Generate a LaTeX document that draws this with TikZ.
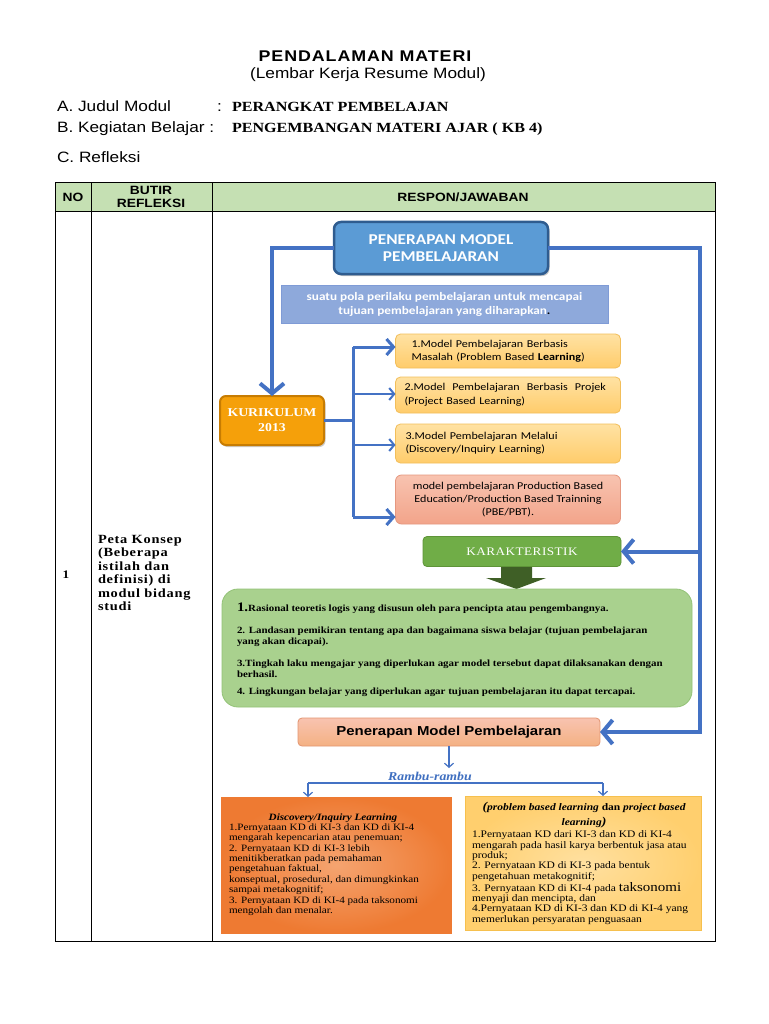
\documentclass[tikz,border=0pt]{standalone}
\usepackage{fontspec}
\setmainfont{Liberation Serif}[FakeStretch=1.15]
\newfontfamily\arialf{Liberation Sans}[FakeStretch=1.15]
\newfontfamily\calf{Carlito}[FakeStretch=1.15]
\usetikzlibrary{arrows.meta,shadows}
\definecolor{hdrgreen}{HTML}{C5E0B3}
\definecolor{blueline}{HTML}{4472C4}
\definecolor{topfill}{HTML}{5B9BD5}
\definecolor{topdraw}{HTML}{2F5C8F}
\definecolor{descfill}{HTML}{8EA9DB}
\definecolor{descdraw}{HTML}{7F9BD6}
\definecolor{kurfill}{HTML}{F5A00A}
\definecolor{kurdraw}{HTML}{C77C02}
\definecolor{mtop}{HTML}{FFE2A3}
\definecolor{mbot}{HTML}{FFCC6B}
\definecolor{mdraw}{HTML}{F2BE5A}
\definecolor{ptop}{HTML}{F8C3B0}
\definecolor{pbot}{HTML}{F2A48A}
\definecolor{pdraw}{HTML}{E5977F}
\definecolor{karfill}{HTML}{70AD47}
\definecolor{kardraw}{HTML}{5E9438}
\definecolor{dkgreen}{HTML}{3F5F26}
\definecolor{listfill}{HTML}{A9D18E}
\definecolor{listdraw}{HTML}{93C277}
\definecolor{penfill}{HTML}{F4B183}
\definecolor{pendraw}{HTML}{E39571}
\definecolor{discin}{HTML}{F5A470}
\definecolor{discout}{HTML}{EE7A32}
\definecolor{probin}{HTML}{FFE0A0}
\definecolor{probout}{HTML}{FFCF6E}
\definecolor{probdraw}{HTML}{F6C04E}
\definecolor{rambu}{HTML}{3F6FC0}
\newcommand\fsz[2]{\fontsize{#1}{#2}\selectfont}
\begin{document}
\begin{tikzpicture}[x=1pt,y=-1pt,
  every node/.style={inner sep=0pt, outer sep=0pt},
  blu/.style={draw=blueline, line width=4pt, line join=miter},
  blumid/.style={draw=blueline, line width=3pt},
  bluthin/.style={draw=blueline, line width=1.2pt},
  bigtip/.style={-{Straight Barb[length=10pt,width=24pt]}},
  midtip/.style={-{Straight Barb[length=7pt,width=16pt]}},
  smalltip/.style={-{Straight Barb[length=5pt,width=12pt]}},
  thintip/.style={-{Straight Barb[length=4pt,width=9pt]}},
  hdr/.style={anchor=base west, font=\arialf\fsz{15}{18}},
  hdrb/.style={anchor=base west, font=\bfseries\fsz{14}{16}},
  mbox/.style={draw=mdraw, line width=0.8pt, rounded corners=5pt, top color=mtop, bottom color=mbot, minimum width=225pt, font=\calf\fsz{10.5}{13.5}, align=left},
  lstitem/.style={anchor=west, font=\bfseries\fsz{9.5}{11}, align=left}
]
\useasboundingbox (0,0) rectangle (768,1024);
\fill[white] (0,0) rectangle (768,1024);

% header
\node[font={\arialf\bfseries\addfontfeature{LetterSpace=6}\fsz{15.5}{18}}] (title) at (365,56) {PENDALAMAN MATERI};
\node[font=\arialf\fsz{15}{18}] (sub) at (368,75) {(Lembar Kerja Resume Modul)};
\node[hdr] (la) at (57,112) {A. Judul Modul};
\node[hdr] (ca) at (217,112) {:};
\node[hdr] (lb) at (57,133) {B. Kegiatan Belajar :};
\node[hdrb] (va) at (232,112) {PERANGKAT PEMBELAJAN};
\node[hdrb] (vb) at (232,133) {PENGEMBANGAN MATERI AJAR ( KB 4)};
\node[hdr] (lc) at (57,163) {C. Refleksi};

% table
\fill[hdrgreen] (55,183) rectangle (715,212);
\draw[line width=1pt] (55,183) rectangle (715,941);
\draw[line width=1pt] (55,212) -- (715,212);
\draw[line width=1pt] (91,183) -- (91,941);
\draw[line width=1pt] (212,183) -- (212,941);
\node[font=\arialf\bfseries\fsz{12}{13}] (hno) at (73,197) {NO};
\node[font=\arialf\bfseries\fsz{12}{13}, align=center] (hbutir) at (151,197) {BUTIR\\REFLEKSI};
\node[font=\arialf\bfseries\fsz{12}{13}] (hresp) at (463,197) {RESPON/JAWABAN};
\node[font=\bfseries\fsz{11.5}{13}] (no1) at (66,575) {1};
\node[anchor=north west, font={\bfseries\addfontfeature{LetterSpace=6}\fsz{12.5}{13.5}}, align=left] (butir1) at (98,535) {Peta Konsep\\(Beberapa\\istilah dan\\definisi) di\\modul bidang\\studi};

% diagram boxes
\node[draw=topdraw, line width=2.5pt, rounded corners=7pt, fill=topfill, text=white,
  minimum width=214pt, minimum height=52pt, align=center,
  font=\calf\bfseries\fsz{15}{17},
  drop shadow={shadow xshift=1.5pt, shadow yshift=-2pt, opacity=0.45}] (top) at (441,248) {PENERAPAN MODEL\\PEMBELAJARAN};
\node[draw=descdraw, line width=0.8pt, fill=descfill, text=white, minimum width=327pt, minimum height=38pt,
  align=center, font=\calf\bfseries\fsz{11.5}{14}] (desc) at (444.5,304) {suatu pola perilaku pembelajaran untuk mencapai\\tujuan pembelajaran yang diharapkan\textcolor{black}{.}};
\node[draw=kurdraw, line width=2pt, rounded corners=6pt, fill=kurfill, text=white,
  minimum width=104pt, minimum height=49pt, align=center, font=\bfseries\fsz{12}{15},
  drop shadow={shadow xshift=1.5pt, shadow yshift=-2pt, opacity=0.4}] (kur) at (272,420.5) {KURIKULUM\\2013};
\node[mbox, minimum height=34pt, text width=193pt, inner xsep=16pt] (m1) at (508,351) {1.Model Pembelajaran Berbasis\\Masalah (Problem Based \textbf{Learning})};
\node[mbox, minimum height=36pt, text width=207pt, inner xsep=9pt] (m2) at (508,395) {2.Model\ \ Pembelajaran\ \ Berbasis\ \ Projek\\(Project Based Learning)};
\node[mbox, minimum height=39pt, text width=205pt, inner xsep=10pt] (m3) at (508,443.5) {3.Model Pembelajaran Melalui\\(Discovery/Inquiry Learning)};
\node[draw=pdraw, line width=0.8pt, rounded corners=6pt, top color=ptop, bottom color=pbot,
  minimum width=225pt, minimum height=49pt, align=center, font=\calf\fsz{10.5}{13}] (m4) at (508,499.5) {model pembelajaran Production Based\\Education/Production Based Trainning\\(PBE/PBT).};
\node[draw=kardraw, line width=0.8pt, rounded corners=4pt, fill=karfill, text=white,
  minimum width=198pt, minimum height=30pt, font={\addfontfeature{LetterSpace=4}\fsz{11.5}{13}}] (kar) at (522,551.5) {KARAKTERISTIK};
\fill[dkgreen] (501,567) -- (532,567) -- (532,578) -- (546,578) -- (516.5,589) -- (486,578) -- (501,578) -- cycle;
\node[draw=listdraw, line width=0.8pt, rounded corners=16pt, fill=listfill,
  minimum width=470pt, minimum height=118pt] (list) at (457,648) {};
\node[lstitem] (it1) at (237,608) {{\fsz{13}{12}1.}Rasional teoretis logis yang disusun oleh para pencipta atau pengembangnya.};
\node[lstitem] (it2) at (237,636.5) {2. Landasan pemikiran tentang apa dan bagaimana siswa belajar (tujuan pembelajaran\\yang akan dicapai).};
\node[lstitem] (it3) at (237,668.5) {3.Tingkah laku mengajar yang diperlukan agar model tersebut dapat dilaksanakan dengan\\berhasil.};
\node[lstitem] (it4) at (237,692) {4. Lingkungan belajar yang diperlukan agar tujuan pembelajaran itu dapat tercapai.};
\node[draw=pendraw, line width=0.8pt, rounded corners=4pt, top color=ptop, bottom color=penfill,
  minimum width=302pt, minimum height=28pt, font=\arialf\bfseries\fsz{13}{15}] (pen) at (449,732) {Penerapan Model Pembelajaran};
\node[font=\bfseries\itshape\fsz{12}{13}, text=rambu] (rambu) at (430,776) {Rambu-rambu};

% bottom boxes
\node[draw=discout, line width=0.6pt, shading=radial, inner color=discin, outer color=discout,
  minimum width=230pt, minimum height=136pt] (disc) at (336,865) {};
\node[font=\bfseries\itshape\fsz{9.7}{10.4}] (disct) at (333,818) {Discovery/Inquiry Learning};
\node[anchor=north west, font=\fsz{9.7}{10.4}, align=left] (discb) at (229,823.5) {1.Pernyataan KD di KI-3 dan KD di KI-4\\mengarah kepencarian atau penemuan;\\2. Pernyataan KD di KI-3 lebih\\menitikberatkan pada pemahaman\\pengetahuan faktual,\\konseptual, prosedural, dan dimungkinkan\\sampai metakognitif;\\3. Pernyataan KD di KI-4 pada taksonomi\\mengolah dan menalar.};
\node[draw=probdraw, line width=0.8pt, shading=radial, inner color=probin, outer color=probout,
  minimum width=236pt, minimum height=134pt] (prob) at (583,863) {};
\node[font=\bfseries\itshape\fsz{10}{15}, align=center] (probt) at (584,815.5) {{\fsz{12}{12}(}problem based learning \textup{dan} project based\\learning{\fsz{12}{12})}};
\node[anchor=north west, font=\fsz{10}{10.3}, align=left] (probb) at (472,831) {1.Pernyataan KD dari KI-3 dan KD di KI-4\\mengarah pada hasil karya berbentuk jasa atau\\produk;\\2. Pernyataan KD di KI-3 pada bentuk\\pengetahuan metakognitif;\\3. Pernyataan KD di KI-4 pada {\fsz{13}{10.3}taksonomi}\\menyaji dan mencipta, dan\\4.Pernyataan KD di KI-3 dan KD di KI-4 yang\\memerlukan persyaratan penguasaan};

% connectors
\coordinate (rb) at (700,732);
\draw[blu, bigtip] (top.west) -| (kur.north);
\draw[blu, bigtip] (top.east) -| (rb) -- (pen.east);
\draw[blu, bigtip] (rb |- kar.east) -- (kar.east);
\coordinate (bt) at (353,347);
\coordinate (b2) at (353,394);
\coordinate (b3) at (353,445);
\coordinate (bb) at (353,517);
\draw[blumid] (kur.east) -- (kur.east -| bt);
\draw[blumid] (bt) -- (bb);
\draw[blumid, midtip] (bt) -- (m1.west |- bt);
\draw[bluthin, line width=2pt, smalltip] (b2) -- (m2.west |- b2);
\draw[bluthin, line width=2pt, smalltip] (b3) -- (m3.west |- b3);
\draw[blumid, midtip] (bb) -- (m4.west |- bb);
\coordinate (ra) at (449,768);
\draw[bluthin, thintip] (pen.south) -- (ra);
\coordinate (bl) at (308,783);
\coordinate (br) at (603,783);
\draw[bluthin] (bl) -- (br);
\draw[bluthin, thintip] (bl) -- (bl |- disc.north);
\draw[bluthin, thintip] (br) -- (br |- prob.north);
\end{tikzpicture}
\end{document}
